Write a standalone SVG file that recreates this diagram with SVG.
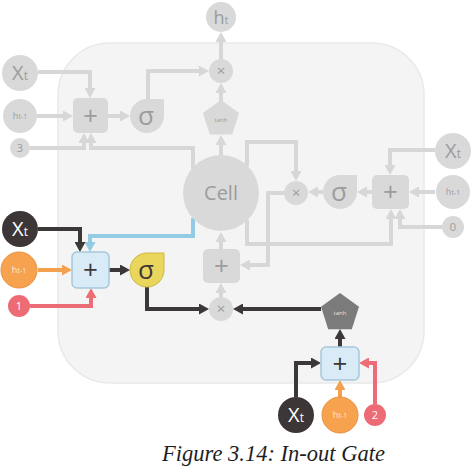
<svg xmlns="http://www.w3.org/2000/svg" width="474" height="467" viewBox="0 0 474 467">
<style>
.bg{fill:#f4f4f4;stroke:#e9e9e9;stroke-width:1.5}
.gn{fill:#d9d9d9}
.gt{fill:#9c9c9c;font-family:"Open Sans",Lato,sans-serif;text-anchor:middle}
.c{fill:none;stroke-width:4;stroke-linejoin:miter}
.g{stroke:#d7d7d7}
.d{stroke:#3d3838}
.b{stroke:#93cbe5}
.o{stroke:#f4a14f}
.p{stroke:#ec6d76}
.wt{fill:#ffffff;font-family:"Open Sans",Lato,sans-serif;text-anchor:middle}
.dt{fill:#3d3838;font-family:"Open Sans",Lato,sans-serif;text-anchor:middle}
</style>
<defs>
<marker id="ag" markerUnits="userSpaceOnUse" markerWidth="10" markerHeight="11" refX="2" refY="5.5" orient="auto"><path d="M0,0 L10,5.5 L0,11 z" fill="#d7d7d7"/></marker>
<marker id="ad" markerUnits="userSpaceOnUse" markerWidth="10" markerHeight="11" refX="2" refY="5.5" orient="auto"><path d="M0,0 L10,5.5 L0,11 z" fill="#3d3838"/></marker>
<marker id="ab" markerUnits="userSpaceOnUse" markerWidth="10" markerHeight="11" refX="2" refY="5.5" orient="auto"><path d="M0,0 L10,5.5 L0,11 z" fill="#93cbe5"/></marker>
<marker id="ao" markerUnits="userSpaceOnUse" markerWidth="10" markerHeight="11" refX="2" refY="5.5" orient="auto"><path d="M0,0 L10,5.5 L0,11 z" fill="#f4a14f"/></marker>
<marker id="ap" markerUnits="userSpaceOnUse" markerWidth="10" markerHeight="11" refX="2" refY="5.5" orient="auto"><path d="M0,0 L10,5.5 L0,11 z" fill="#ec6d76"/></marker>
</defs>
<rect class="bg" x="58" y="43" width="366" height="340" rx="52"/>

<g id="connectors">
<path class="c g" d="M38,72 H90 V90" marker-end="url(#ag)"/>
<path class="c g" d="M37,116 H65" marker-end="url(#ag)"/>
<path class="c g" d="M108,116 H122" marker-end="url(#ag)"/>
<path class="c g" d="M148,99 V71 H201" marker-end="url(#ag)"/>
<path class="c g" d="M221,101 V91" marker-end="url(#ag)"/>
<path class="c g" d="M221,59 V40" marker-end="url(#ag)"/>
<path class="c g" d="M221,156 V143" marker-end="url(#ag)"/>
<path class="c g" d="M30,148 H84 V141" marker-end="url(#ag)"/>
<path class="c g" d="M193,169 V148 H91 V141" marker-end="url(#ag)"/>
<path class="c g" d="M435,150 H390 V167" marker-end="url(#ag)"/>
<path class="c g" d="M435,192 H417" marker-end="url(#ag)"/>
<path class="c g" d="M372,192 H365" marker-end="url(#ag)"/>
<path class="c g" d="M323,192 H316" marker-end="url(#ag)"/>
<path class="c g" d="M442,227 H400 V217" marker-end="url(#ag)"/>
<path class="c g" d="M247,220 V244 H391 V217" marker-end="url(#ag)"/>
<path class="c g" d="M247,166 V142 H296 V173" marker-end="url(#ag)"/>
<path class="c g" d="M284,193 H268 V265 H248" marker-end="url(#ag)"/>
<path class="c g" d="M221,249 V240" marker-end="url(#ag)"/>
<path class="c g" d="M221,297 V291" marker-end="url(#ag)"/>
<path class="c b" d="M193,218 V236 H90 V244" marker-end="url(#ab)"/>
<path class="c d" d="M38,229 H80 V244" marker-end="url(#ad)"/>
<path class="c d" d="M109,270 H122" marker-end="url(#ad)"/>
<path class="c d" d="M147,287 V309 H201" marker-end="url(#ad)"/>
<path class="c d" d="M321,309 H241" marker-end="url(#ad)"/>
<path class="c d" d="M296,397 V363 H313" marker-end="url(#ad)"/>
<path class="c d" d="M340,347 V337" marker-end="url(#ad)"/>
<path class="c o" d="M38,270 H64" marker-end="url(#ao)"/>
<path class="c o" d="M340,397 V388" marker-end="url(#ao)"/>
<path class="c p" d="M30,306 H91 V296" marker-end="url(#ap)"/>
<path class="c p" d="M375,404 V363 H367" marker-end="url(#ap)"/>
</g>

<g id="ht"><circle class="gn" cx="221" cy="17" r="15"/><text class="gt" x="221" y="24" font-size="18">h<tspan font-size="11">t</tspan></text></g>
<g id="mul-top"><circle class="gn" cx="221" cy="71" r="12"/><text class="gt" x="221" y="76" font-size="15">×</text></g>
<g id="tanh-top"><polygon class="gn" points="221,100 239.1,113.1 232.2,134.4 209.8,134.4 202.9,113.1"/><text class="gt" x="221" y="122" font-size="6">tanh</text></g>
<g id="xt-tl"><circle class="gn" cx="20" cy="73" r="18"/><text class="gt" x="20" y="80" font-size="20">X<tspan font-size="12">t</tspan></text></g>
<g id="h-tl"><circle class="gn" cx="20" cy="116" r="17"/><text class="gt" x="20" y="119" font-size="9">h<tspan font-size="7">t-1</tspan></text></g>
<g id="n3"><circle class="gn" cx="20" cy="148" r="10"/><text class="gt" x="20" y="152" font-size="11">3</text></g>
<g id="plus-tl"><rect class="gn" x="73" y="98" width="35" height="35" rx="5"/><text class="gt" x="90.5" y="125" font-size="26">+</text></g>
<g id="sig-tl"><path class="gn" d="M147,99 H164 V116 A17,17 0 0 1 147,133 A17,17 0 0 1 130,116 A17,17 0 0 1 147,99 Z"/><text class="gt" x="146" y="125" font-size="26">σ</text></g>

<g id="cell"><circle class="gn" cx="221" cy="193" r="38"/><text class="gt" x="221" y="200" font-size="20">Cell</text></g>

<g id="xt-r"><circle class="gn" cx="453" cy="151" r="18"/><text class="gt" x="453" y="158" font-size="20">X<tspan font-size="12">t</tspan></text></g>
<g id="h-r"><circle class="gn" cx="453" cy="192" r="17"/><text class="gt" x="453" y="195" font-size="9">h<tspan font-size="7">t-1</tspan></text></g>
<g id="n0"><circle class="gn" cx="453" cy="227" r="11"/><text class="gt" x="453" y="231" font-size="11">0</text></g>
<g id="plus-r"><rect class="gn" x="372" y="175" width="37" height="34" rx="5"/><text class="gt" x="390.5" y="201" font-size="26">+</text></g>
<g id="sig-r"><path class="gn" d="M340,175 H357 V192 A17,17 0 0 1 340,209 A17,17 0 0 1 323,192 A17,17 0 0 1 340,175 Z"/><text class="gt" x="339" y="201" font-size="26">σ</text></g>
<g id="mul-r"><circle class="gn" cx="296" cy="193" r="12"/><text class="gt" x="296" y="198" font-size="15">×</text></g>

<g id="plus-c"><rect class="gn" x="203" y="249" width="37" height="34" rx="5"/><text class="gt" x="221.5" y="275" font-size="26">+</text></g>
<g id="mul-c"><circle class="gn" cx="221" cy="309" r="12"/><text class="gt" x="221" y="314" font-size="15">×</text></g>

<g id="xt-d"><circle fill="#3d3636" cx="20" cy="229" r="18"/><text class="wt" x="20" y="236" font-size="20">X<tspan font-size="12">t</tspan></text></g>
<g id="h-o"><circle fill="#f6a24f" stroke="#e8913f" stroke-width="1" cx="19" cy="270" r="18"/><text class="wt" x="19" y="273" font-size="9" fill-opacity="0.8">h<tspan font-size="7">t-1</tspan></text></g>
<g id="n1"><circle fill="#ec6b74" cx="19" cy="306" r="11"/><text class="wt" x="19" y="310" font-size="11">1</text></g>
<g id="plus-b"><rect fill="#d9ebf6" stroke="#a6c8db" stroke-width="1.5" x="72" y="252" width="37" height="36" rx="5"/><text class="dt" x="90.5" y="279" font-size="26">+</text></g>
<g id="sig-y"><path fill="#ead65c" stroke="#cbb843" stroke-width="1" d="M147,253 H164 V270 A17,17 0 0 1 147,287 A17,17 0 0 1 130,270 A17,17 0 0 1 147,253 Z"/><text class="dt" x="146" y="279" font-size="26">σ</text></g>

<g id="tanh-d"><polygon fill="#7b7b7b" points="340,293 359,306.8 351.8,329.2 328.2,329.2 321,306.8"/><text class="wt" x="340" y="315" font-size="6" fill-opacity="0.8">tanh</text></g>
<g id="plus-b2"><rect fill="#d9ebf6" stroke="#a6c8db" stroke-width="1.5" x="321" y="347" width="38" height="33" rx="5"/><text class="dt" x="340" y="373" font-size="26">+</text></g>
<g id="xt-d2"><circle fill="#3d3636" cx="296" cy="415" r="18"/><text class="wt" x="296" y="422" font-size="20">X<tspan font-size="12">t</tspan></text></g>
<g id="h-o2"><circle fill="#f6a24f" stroke="#e8913f" stroke-width="1" cx="340" cy="415" r="18"/><text class="wt" x="340" y="418" font-size="9" fill-opacity="0.8">h<tspan font-size="7">t-1</tspan></text></g>
<g id="n2"><circle fill="#ec6b74" cx="375" cy="415" r="11"/><text class="wt" x="375" y="419" font-size="11">2</text></g>

<text x="162" y="461" font-family="Liberation Serif,serif" font-style="italic" font-size="22.5" fill="#1e1e1e">Figure 3.14: In-out Gate</text>
</svg>
